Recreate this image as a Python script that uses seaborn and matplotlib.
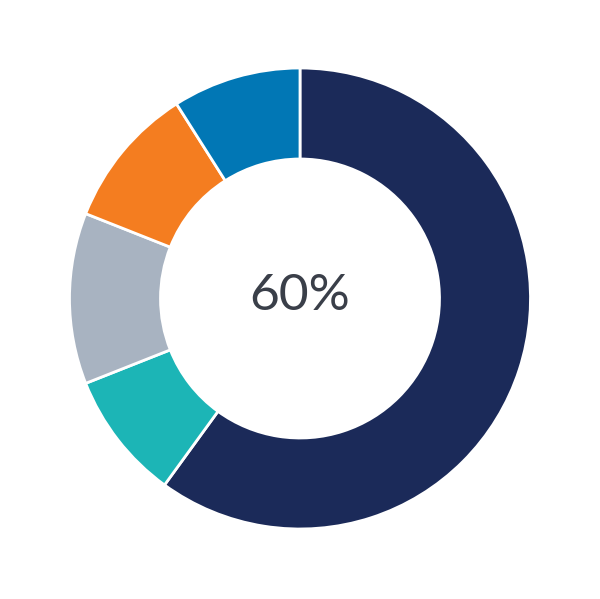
import matplotlib
matplotlib.use('Agg')
import matplotlib.pyplot as plt
import seaborn as sns

# slice shares, clockwise from 12 o'clock
labels = ['Navy', 'Teal', 'Gray', 'Orange', 'Blue']
shares = [60, 9, 12, 10, 9]
colors = ['#1b2a59', '#1cb5b6', '#a8b3c1', '#f47d20', '#0177b5']
center_label = '60%'

sns.set_theme(style='white')
plt.rcParams['font.family'] = ['Lato', 'DejaVu Sans']

fig = plt.figure(figsize=(6, 5.99), dpi=100)
ax = fig.add_axes([0, 0, 1, 1])

ax.pie(shares, colors=sns.color_palette(colors), startangle=90, counterclock=False,
       radius=230.5, center=(300, 300.5),
       wedgeprops=dict(width=91, edgecolor='white', linewidth=2))
ax.text(300, 303, center_label, ha='center', va='center',
        fontsize=37, color='#3a3f49')

ax.set_xlim(0, 600)
ax.set_ylim(0, 599)
ax.set_aspect('equal')
ax.axis('off')

fig.savefig('out.png', dpi=100, facecolor='white')
